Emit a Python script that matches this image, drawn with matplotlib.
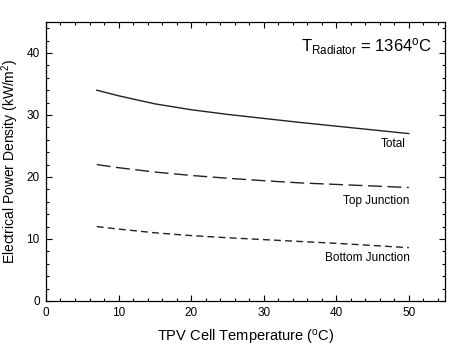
import matplotlib
matplotlib.use("Agg")
import matplotlib.pyplot as plt
from matplotlib.ticker import MultipleLocator

plt.rcParams['font.family'] = ['Liberation Sans', 'DejaVu Sans']
plt.rcParams['mathtext.fontset'] = 'custom'
plt.rcParams['mathtext.rm'] = 'Liberation Sans'
plt.rcParams['mathtext.it'] = 'Liberation Sans:italic'
plt.rcParams['mathtext.bf'] = 'Liberation Sans:bold'

temp = [7, 10, 15, 20, 25, 30, 35, 40, 45, 50]
total = [34.0, 33.1, 31.8, 30.85, 30.1, 29.45, 28.8, 28.2, 27.6, 27.0]
top_junction = [22.0, 21.5, 20.8, 20.25, 19.8, 19.4, 19.05, 18.8, 18.55, 18.3]
bottom_junction = [12.0, 11.6, 11.0, 10.55, 10.2, 9.9, 9.6, 9.3, 8.95, 8.6]

fig = plt.figure(figsize=(4.74, 3.47), dpi=100)
ax = fig.add_axes([0.097, 0.1326, 0.842, 0.804])

ax.plot(temp, total, color='#222222', lw=1.0, ls='-')
ax.plot(temp, top_junction, color='#222222', lw=1.0, ls=(0, (10, 4)))
ax.plot(temp, bottom_junction, color='#222222', lw=1.0, ls=(0, (5, 3)))

ax.set_xlim(0, 55)
ax.set_ylim(0, 45)
ax.xaxis.set_major_locator(MultipleLocator(10))
ax.xaxis.set_minor_locator(MultipleLocator(2))
ax.yaxis.set_major_locator(MultipleLocator(10))
ax.yaxis.set_minor_locator(MultipleLocator(2))
ax.tick_params(which='both', direction='in', top=True, right=True, labelsize=8.5, width=0.8)
ax.tick_params(which='major', length=4, pad=4.5)
ax.tick_params(which='minor', length=2)
for s in ax.spines.values():
    s.set_linewidth(0.9)

ax.set_xlabel('TPV Cell Temperature ($^{\\rm o}$C)', fontsize=10.5, labelpad=6)
ax.set_ylabel('Electrical Power Density (kW/m$^2$)', fontsize=10, labelpad=4)

ax.text(49.6, 25.4, 'Total', ha='right', va='center', fontsize=8.5)
ax.text(50.1, 16.2, 'Top Junction', ha='right', va='center', fontsize=8.5)
ax.text(50.1, 6.9, 'Bottom Junction', ha='right', va='center', fontsize=8.5)
ax.text(53.2, 41, 'T$_{\\rm Radiator}$ = 1364$^{\\rm o}$C', ha='right', va='center', fontsize=12)

fig.savefig('out.png', dpi=100)
